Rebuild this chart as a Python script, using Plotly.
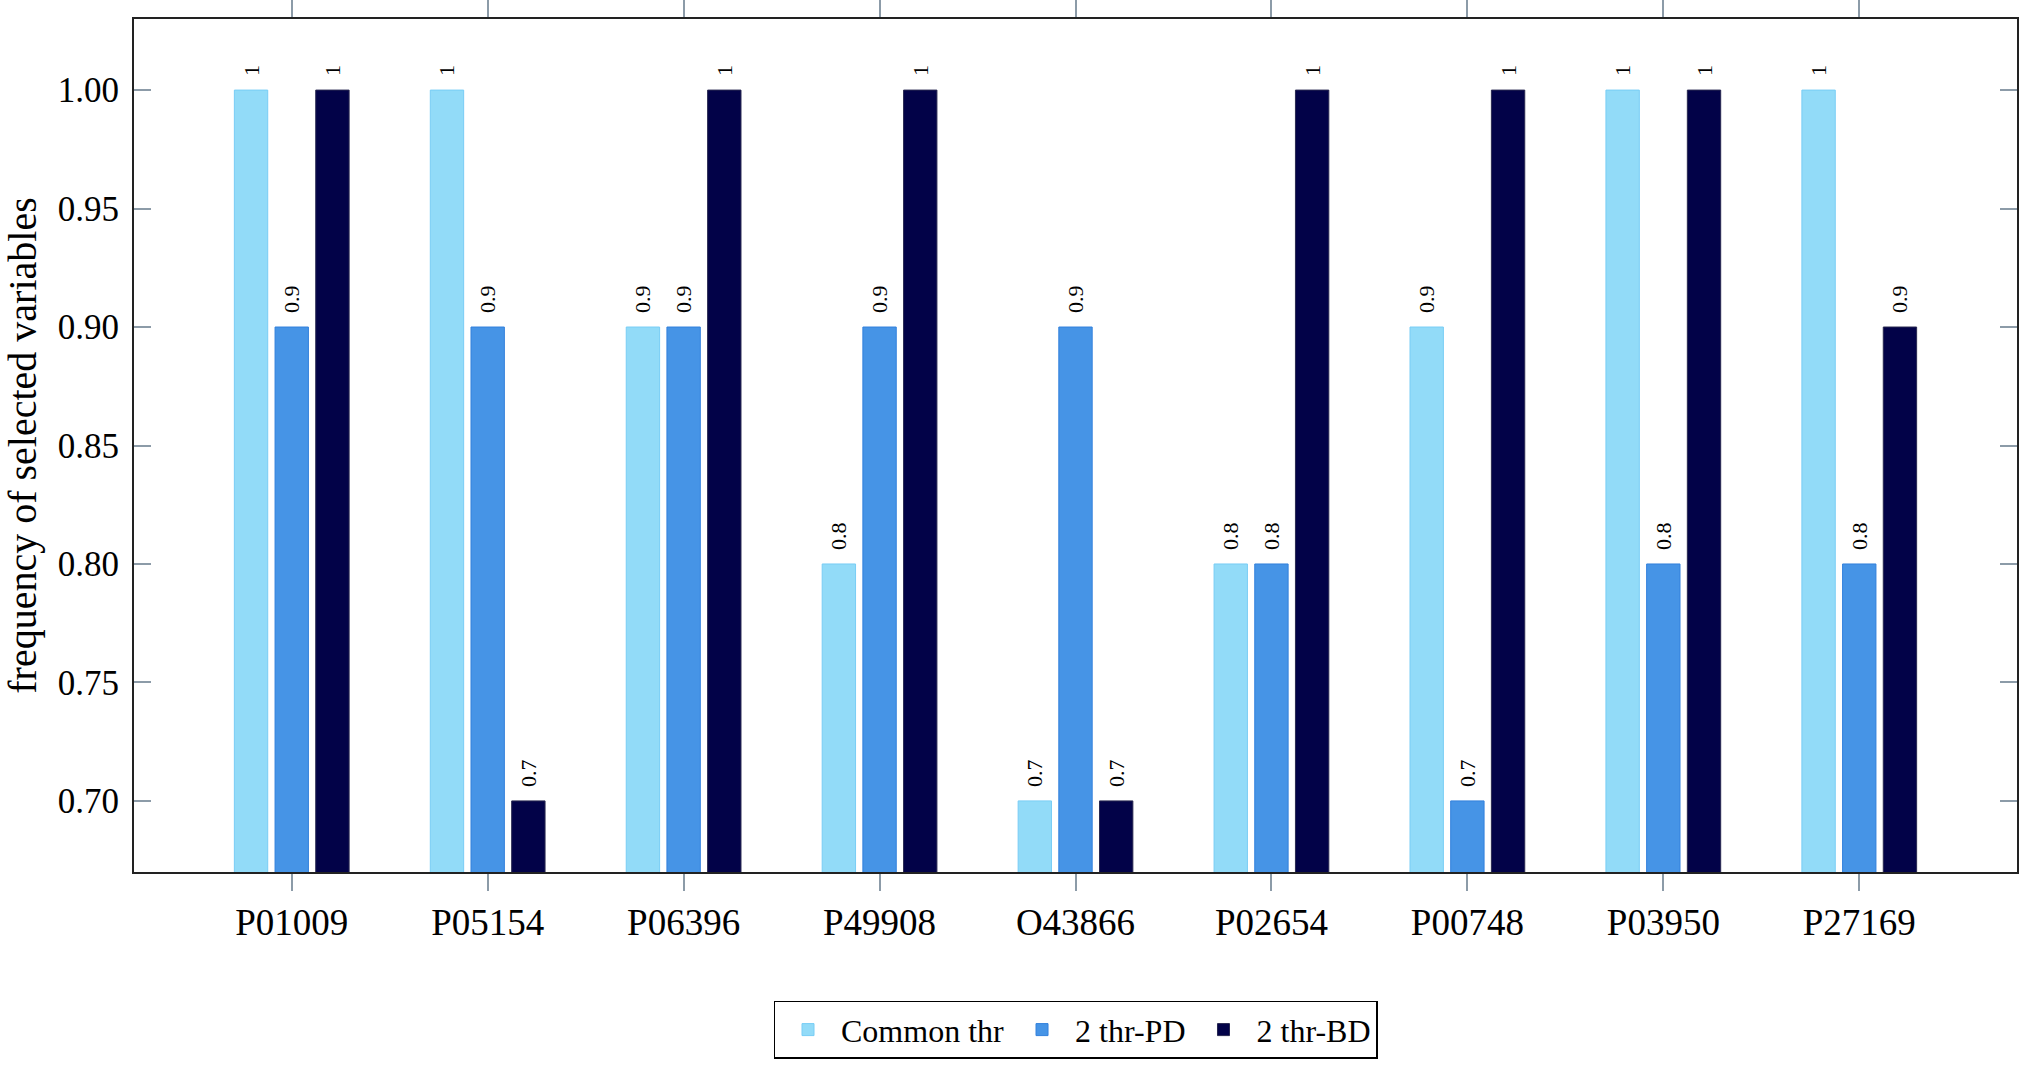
import plotly.graph_objects as go

categories = ["P01009", "P05154", "P06396", "P49908", "O43866", "P02654", "P00748", "P03950", "P27169"]
common_thr = [1.0, 1.0, 0.9, 0.8, 0.7, 0.8, 0.9, 1.0, 1.0]
thr2_pd = [0.9, 0.9, 0.9, 0.9, 0.9, 0.8, 0.7, 0.8, 0.8]
thr2_bd = [1.0, 0.7, 1.0, 1.0, 0.7, 1.0, 1.0, 1.0, 0.9]
series_names = ["Common thr", "2 thr-PD", "2 thr-BD"]
y_ticks = [0.70, 0.75, 0.80, 0.85, 0.90, 0.95, 1.00]

fills = ["rgb(146,219,248)", "rgb(70,148,230)", "rgb(2,2,72)"]
edges = ["rgb(120,205,245)", "rgb(50,128,220)", "rgb(40,40,80)"]

FONT = "Liberation Serif"
fig = go.Figure()
for name, vals, fc, ec in zip(series_names, [common_thr, thr2_pd, thr2_bd], fills, edges):
    fig.add_trace(go.Bar(
        x=categories, y=vals, name=name,
        marker=dict(color=fc, line=dict(color=ec, width=1)),
        text=["\u00a0\u00a0" + f"{v:g}" for v in vals],
        textposition="outside", textangle=-90, cliponaxis=False,
        constraintext="none",
        textfont=dict(family=FONT, size=22, color="black"),
    ))

tickcol = "rgb(140,155,168)"
fig.update_layout(
    width=2020, height=1067,
    margin=dict(l=134, r=3, t=19, b=195, autoexpand=False),
    paper_bgcolor="white", plot_bgcolor="white",
    barmode="group", bargap=0.377, bargroupgap=0.18,
    font=dict(family=FONT, size=36, color="black"),
    showlegend=True,
    legend=dict(orientation="h", x=0.5, xanchor="center", y=-0.151, yanchor="top",
                bordercolor="black", borderwidth=1.5, font=dict(family=FONT, size=32),
                traceorder="normal", itemwidth=56),
    xaxis=dict(type="category", range=[-0.805, 8.805], showline=True, linecolor="#222",
               linewidth=2, mirror="ticks", ticks="outside", ticklen=17, tickwidth=1.5,
               tickcolor=tickcol, showgrid=False, tickfont=dict(family=FONT, size=37)),
    yaxis=dict(range=[0.67, 1.03], tickvals=y_ticks, tickformat=".2f", showline=True,
               linecolor="#222", linewidth=2, mirror="ticks", ticks="inside", ticklen=17,
               tickwidth=1.5, tickcolor=tickcol, showgrid=False, zeroline=False,
               tickfont=dict(family=FONT, size=35), ticklabelstandoff=6,
               title=dict(text="frequency of selected variables", font=dict(family=FONT, size=40),
                          standoff=20)),
)
fig.write_html("out.html", config={"displayModeBar": False},
               post_script="document.body.style.margin='0';")
